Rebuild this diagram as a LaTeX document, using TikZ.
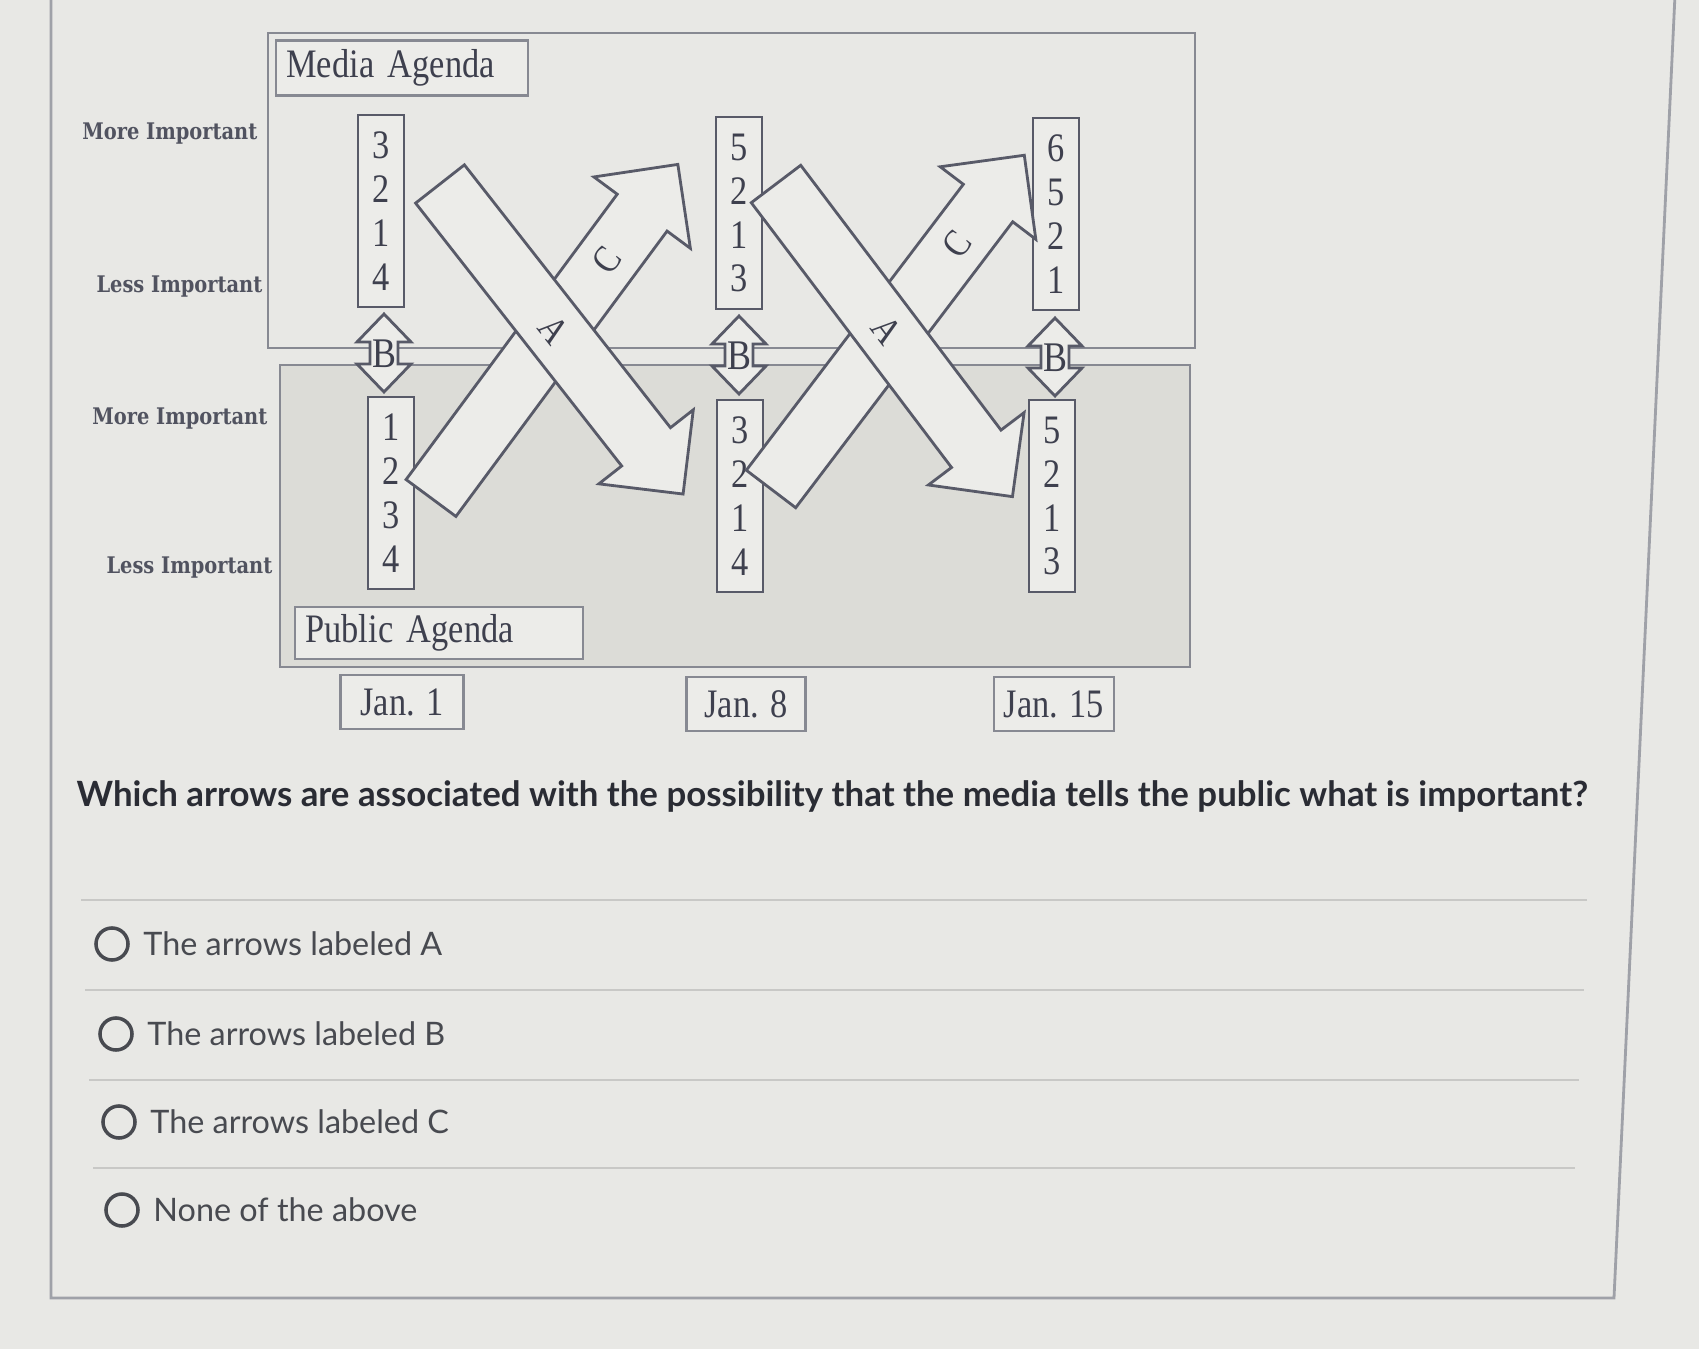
\documentclass[tikz,border=0pt]{standalone}
\usepackage{fontspec}
\setmainfont{Liberation Serif}
\newfontfamily\diagfont[FakeStretch=0.85]{Liberation Serif}
\newfontfamily\slabfont[FakeStretch=0.85]{DejaVu Serif}
\newfontfamily\quizfont{Lato}
\usepackage{tikz}
\usetikzlibrary{calc, positioning}
\tikzset{>=latex}
\definecolor{mypaper}{RGB}{232, 232, 229}
\definecolor{mygray1}{RGB}{220, 220, 215}
\definecolor{mybody}{RGB}{236, 236, 233}
\definecolor{myline}{RGB}{88, 90, 104}
\definecolor{mylight}{RGB}{135, 137, 146}
\definecolor{myink}{RGB}{62, 64, 78}
\definecolor{myrule}{RGB}{200, 200, 198}
\definecolor{myquiz}{RGB}{42, 44, 52}
\definecolor{mychoice}{RGB}{72, 74, 80}

\tikzset{
  agenda/.style = {draw = mylight, fill = mybody, line width = 0.6pt, inner xsep = 0.1cm,
    inner ysep = 0pt, font = \diagfont\fontsize{11.5}{12}\selectfont, text = myink},
  rankbox/.style = {draw = myline, fill = mybody, line width = 0.8pt, minimum width = 0.46cm,
    minimum height = 1.92cm, inner sep = 0pt, align = center,
    font = \diagfont\fontsize{11.5}{12.5}\selectfont, text = myink},
  arrowbody/.style = {draw = myline, fill = mybody, line width = 0.8pt, line join = miter},
  arrowtag/.style = {inner sep = 0pt, font = \diagfont\fontsize{11}{11}\selectfont, text = myink},
  imp/.style = {anchor = east, inner sep = 0pt, font = \slabfont\bfseries\fontsize{6.5}{7}\selectfont, text = myink!90},
  radio/.style = {circle, draw = mychoice, line width = 1pt, minimum size = 0.32cm, inner sep = 0pt},
  choice/.style = {inner sep = 0pt, font = \quizfont\fontsize{9.2}{10}\selectfont, text = mychoice},
  rule/.style = {myrule, line width = 0.6pt}
}

% block arrow: name, tail, angle, length, label distance, letter
\newcommand\bigarrow[6]{%
  \begin{scope}[shift={#2}, rotate=#3]
    \draw[arrowbody] (0,-31) -- (#4-60,-31) -- (#4-60,-60) -- (#4,0)
      -- (#4-60,60) -- (#4-60,31) -- (0,31) -- cycle;
    \node[arrowtag, transform shape] (#1) at (#5,0) {#6};
  \end{scope}}

\begin{document}
\begin{tikzpicture}[x=0.01cm, y=-0.01cm]
\useasboundingbox (0,0) rectangle (1699,1349);
\fill[mypaper] (0,0) rectangle (1699,1349);

% page frame and rules
\draw[mylight!80, line width = 0.8pt] (51,-5) -- (51,1298) -- (1614,1298) -- (1675,-5);
\foreach \y/\a/\b in {900/81/1587, 990/85/1584, 1080/89/1579, 1168/93/1575}
  \draw[rule] (\a,\y) -- (\b,\y);

% the two agendas
\draw[mylight, line width = 0.8pt, fill = mypaper] (268,33) rectangle (1195,348);
\draw[mylight, line width = 0.8pt, fill = mygray1] (280,365) rectangle (1190,667);

\node[agenda, text width = 2.31cm, minimum height = 0.55cm, align = left] (media) at (402,68) {Media Agenda};
\node[agenda, text width = 2.67cm, minimum height = 0.52cm, align = left] (public) at (439,633) {Public Agenda};

\foreach \n/\x/\y/\t/\w in {jan1/402/702/Jan. 1/1.23, jan8/746/704/Jan. 8/1.19, jan15/1054/704/Jan. 15/1.20}
  \node[agenda, minimum width = \w cm, minimum height = 0.54cm, inner xsep = 0pt] (\n) at (\x,\y) {\t};

% rank columns
\foreach \n/\x/\y/\a/\b/\c/\d in {c1t/381/211/3/2/1/4, c1b/391/493/1/2/3/4,
    c2t/739/213/5/2/1/3, c2b/740/496/3/2/1/4, c3t/1056/214/6/5/2/1, c3b/1052/496/5/2/1/3}
  \node[rankbox] (\n) at (\x,\y) {\a\\\b\\\c\\\d};

% double arrows B
\foreach \n/\x/\y in {b1/384/353, b2/739/355, b3/1055/357} {
  \begin{scope}[shift={(\x,\y)}]
    \draw[arrowbody] (0,-39) -- (27,-11) -- (14,-11) -- (14,11) -- (27,11) -- (0,39)
      -- (-27,11) -- (-14,11) -- (-14,-11) -- (-27,-11) -- cycle;
    \node[arrowtag, font = \diagfont\fontsize{12}{12}\selectfont] (\n) at (0,1) {B};
  \end{scope}
}

% arrows C under arrows A
\bigarrow{c1}{(431,498)}{53.5}{415}{296}{C}
\bigarrow{c2}{(771,489)}{52.8}{419}{308}{C}
\bigarrow{a1}{(440,184)}{-51.9}{394}{185}{A}
\bigarrow{a2}{(776,184)}{-52.9}{392}{184}{A}

\node[imp] (imp1) at (258,134) {More Important};
\node[imp] (imp2) at (263,287) {Less Important};
\node[imp] (imp3) at (268,419) {More Important};
\node[imp] (imp4) at (273,568) {Less Important};

% question
\node[anchor = west, inner sep = 0pt, font = \quizfont\bfseries\fontsize{9.9}{10}\selectfont, text = myquiz]
  (question) at (76,796) {Which arrows are associated with the possibility that the media tells the public what is important?};

\foreach \i/\x/\y/\t in {1/112/944/The arrows labeled A, 2/116/1034/The arrows labeled B,
    3/119/1122/The arrows labeled C, 4/122/1210/None of the above} {
  \node[radio] (radio\i) at (\x,\y) {};
  \node[choice, right = 0.13cm of radio\i] (choice\i) {\t};
}
\end{tikzpicture}
\end{document}
